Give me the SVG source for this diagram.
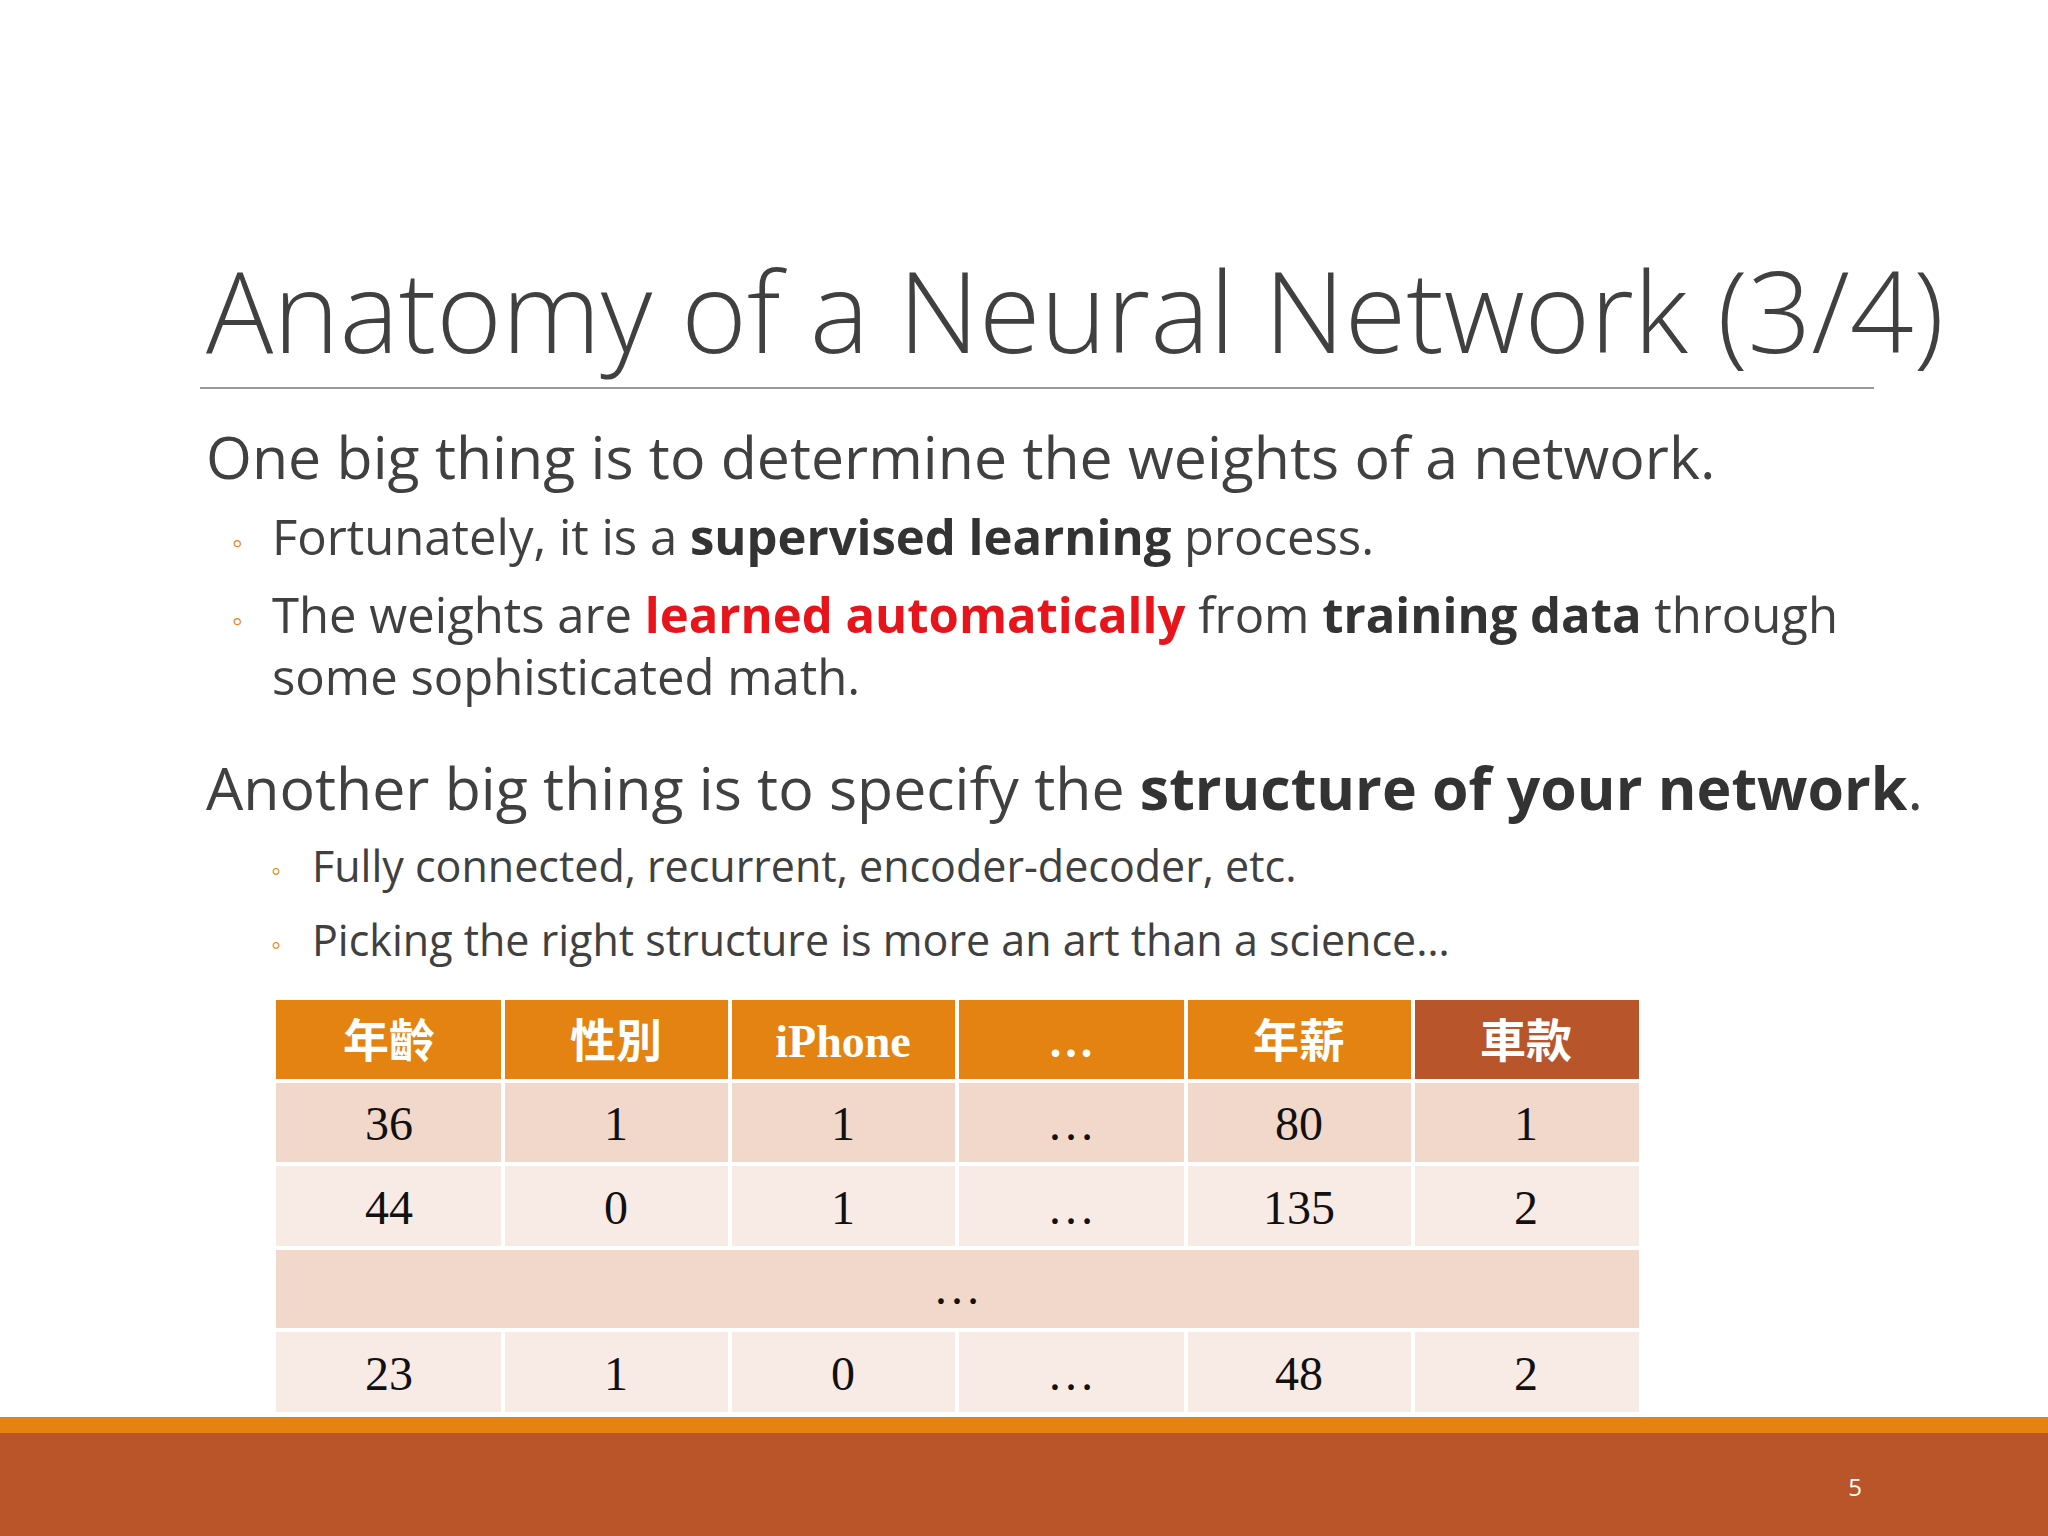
<svg xmlns="http://www.w3.org/2000/svg" width="2048" height="1536" viewBox="0 0 2048 1536">
<style>
.s{font-family:"Open Sans","Noto Sans",sans-serif;fill:#404040}
.b{font-weight:bold;fill:#333}
.h{font-family:"Liberation Serif","Noto Sans CJK TC",serif;font-weight:bold;font-size:46px;fill:#fff;text-anchor:middle}
.d{font-family:"Liberation Serif",serif;font-size:48px;fill:#111;text-anchor:middle}
.r1{fill:#F2D8CB}.r2{fill:#F8EBE6}
</style>
<rect width="2048" height="1536" fill="#fff"/>
<text x="206" y="353" class="s" font-size="112" font-weight="300">Anatomy of a Neural Network (3/4)</text>
<line x1="200" y1="388" x2="1874" y2="388" stroke="#999" stroke-width="2"/>
<text x="206" y="479" class="s" font-size="59">One big thing is to determine the weights of a network.</text>
<text x="232" y="553" class="s" font-size="30" fill="#E48312" style="fill:#E48312">◦</text>
<text x="272" y="555" class="s" font-size="49">Fortunately, it is a <tspan class="b">supervised learning</tspan> process.</text>
<text x="232" y="631" class="s" font-size="30" style="fill:#E48312">◦</text>
<text x="272" y="633" class="s" font-size="49">The weights are <tspan font-weight="bold" style="fill:#E8141B">learned automatically</tspan> from <tspan class="b">training data</tspan> through</text>
<text x="272" y="695" class="s" font-size="49">some sophisticated math.</text>
<text x="206" y="810" class="s" font-size="59">Another big thing is to specify the <tspan class="b">structure of your network</tspan>.</text>
<text x="271" y="880" class="s" font-size="28" style="fill:#E48312">◦</text>
<text x="312" y="882" class="s" font-size="43">Fully connected, recurrent, encoder-decoder, etc.</text>
<text x="271" y="954" class="s" font-size="28" style="fill:#E48312">◦</text>
<text x="312" y="956" class="s" font-size="43">Picking the right structure is more an art than a science…</text>
<g id="table">
<rect x="276" y="1000" width="1363" height="79" fill="#E48312"/>
<rect x="1414" y="1000" width="225" height="79" fill="#B8552B"/>
<rect x="276" y="1083" width="1363" height="79" class="r1"/>
<rect x="276" y="1166" width="1363" height="80" class="r2"/>
<rect x="276" y="1250" width="1363" height="78" class="r1"/>
<rect x="276" y="1332" width="1363" height="80" class="r2"/>
<g stroke="#fff" stroke-width="4">
<line x1="503" y1="1000" x2="503" y2="1246"/><line x1="730" y1="1000" x2="730" y2="1246"/><line x1="957" y1="1000" x2="957" y2="1246"/><line x1="1186" y1="1000" x2="1186" y2="1246"/><line x1="1413" y1="1000" x2="1413" y2="1246"/>
<line x1="503" y1="1330" x2="503" y2="1412"/><line x1="730" y1="1330" x2="730" y2="1412"/><line x1="957" y1="1330" x2="957" y2="1412"/><line x1="1186" y1="1330" x2="1186" y2="1412"/><line x1="1413" y1="1330" x2="1413" y2="1412"/>
<line x1="276" y1="1081" x2="1639" y2="1081"/>
</g>
<text x="389" y="1057" class="h">年齡</text><text x="616" y="1057" class="h">性別</text><text x="843" y="1057" class="h">iPhone</text><text x="1071" y="1057" class="h">…</text><text x="1299" y="1057" class="h">年薪</text><text x="1526" y="1057" class="h">車款</text>
<text x="389" y="1140" class="d">36</text><text x="616" y="1140" class="d">1</text><text x="843" y="1140" class="d">1</text><text x="1071" y="1140" class="d">…</text><text x="1299" y="1140" class="d">80</text><text x="1526" y="1140" class="d">1</text>
<text x="389" y="1224" class="d">44</text><text x="616" y="1224" class="d">0</text><text x="843" y="1224" class="d">1</text><text x="1071" y="1224" class="d">…</text><text x="1299" y="1224" class="d">135</text><text x="1526" y="1224" class="d">2</text>
<text x="957" y="1304" class="d">…</text>
<text x="389" y="1390" class="d">23</text><text x="616" y="1390" class="d">1</text><text x="843" y="1390" class="d">0</text><text x="1071" y="1390" class="d">…</text><text x="1299" y="1390" class="d">48</text><text x="1526" y="1390" class="d">2</text>
</g>
<rect x="0" y="1417" width="2048" height="16" fill="#E48312"/>
<rect x="0" y="1433" width="2048" height="103" fill="#BA5529"/>
<text x="1855" y="1496" font-family="Open Sans,sans-serif" font-size="24" fill="#fff" text-anchor="middle">5</text>
</svg>
